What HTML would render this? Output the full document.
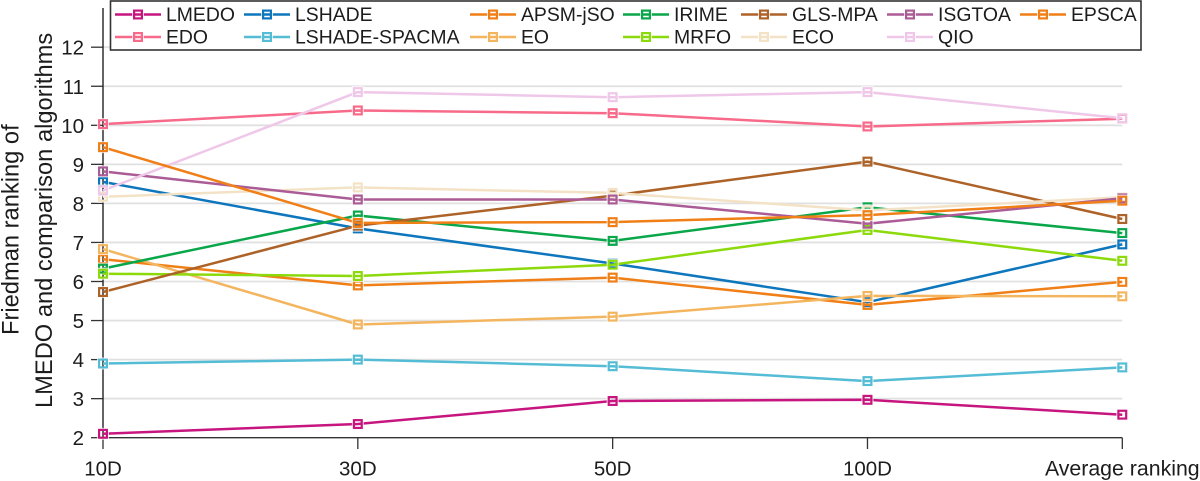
<!DOCTYPE html>
<html>
<head>
<meta charset="utf-8">
<style>
html,body{margin:0;padding:0;background:#fff;width:1200px;height:481px;overflow:hidden}
svg{display:block;font-family:"Liberation Sans",sans-serif;fill:#1c1c1c;filter:blur(0.35px)}
</style>
</head>
<body>
<svg id="chart" width="1200" height="481" viewBox="0 0 1200 481" xmlns="http://www.w3.org/2000/svg">
  <text transform="translate(18.5,335) rotate(-90)" font-size="23.7">Friedman ranking of</text>
  <text transform="translate(52,408) rotate(-90)" font-size="23.7">LMEDO and comparison algorithms</text>
</svg>
<script>
const categories = ['10D', '30D', '50D', '100D', 'Average ranking'];
const yTickLabels = [2, 3, 4, 5, 6, 7, 8, 9, 10, 11, 12];

const lmedoValues = [2.1, 2.35, 2.94, 2.97, 2.59];
const edoValues = [10.03, 10.38, 10.31, 9.97, 10.17];
const lshadeValues = [8.55, 7.36, 6.46, 5.47, 6.95];
const lshadeSpacmaValues = [3.9, 4.0, 3.83, 3.45, 3.8];
const apsmJsoValues = [6.57, 5.9, 6.1, 5.4, 5.99];
const eoValues = [6.83, 4.9, 5.1, 5.63, 5.62];
const irimeValues = [6.33, 7.69, 7.04, 7.9, 7.24];
const mrfoValues = [6.2, 6.14, 6.43, 7.32, 6.53];
const glsMpaValues = [5.73, 7.43, 8.2, 9.07, 7.6];
const ecoValues = [8.17, 8.41, 8.27, 7.82, 8.16];
const isgtoaValues = [8.82, 8.1, 8.1, 7.48, 8.13];
const qioValues = [8.33, 10.85, 10.72, 10.85, 10.18];
const epscaValues = [9.44, 7.5, 7.52, 7.7, 8.07];

const seriesList = [
  {name: 'LMEDO', color: '#c7157f', values: lmedoValues, column: 0, row: 0},
  {name: 'EDO', color: '#f76a8a', values: edoValues, column: 0, row: 1},
  {name: 'LSHADE', color: '#0d76bd', values: lshadeValues, column: 1, row: 0},
  {name: 'LSHADE-SPACMA', color: '#55bcd6', values: lshadeSpacmaValues, column: 1, row: 1},
  {name: 'APSM-jSO', color: '#f07f17', values: apsmJsoValues, column: 2, row: 0},
  {name: 'EO', color: '#f4b55f', values: eoValues, column: 2, row: 1},
  {name: 'IRIME', color: '#09a64a', values: irimeValues, column: 3, row: 0},
  {name: 'MRFO', color: '#8cd90c', values: mrfoValues, column: 3, row: 1},
  {name: 'GLS-MPA', color: '#ad6228', values: glsMpaValues, column: 4, row: 0},
  {name: 'ECO', color: '#f3e2c6', values: ecoValues, column: 4, row: 1},
  {name: 'ISGTOA', color: '#ab5c96', values: isgtoaValues, column: 5, row: 0},
  {name: 'QIO', color: '#efc7e8', values: qioValues, column: 5, row: 1},
  {name: 'EPSCA', color: '#f07f17', values: epscaValues, column: 6, row: 0}
];

const svg = document.getElementById('chart');
const NS = 'http://www.w3.org/2000/svg';
const plotLeft = 103, plotRight = 1122.3, plotBottom = 437.7, plotTop = 8;
const yScale = 39.05, yMin = 2;
const legendColumnLeft = [115, 244, 470, 623, 741, 887, 1020];
const legendRowY = [14.5, 37];

function xPos(i) { return plotLeft + i * (plotRight - plotLeft) / (categories.length - 1); }
function yPos(v) { return plotBottom - (v - yMin) * yScale; }
function make(tag, attrs, parent) {
  const el = document.createElementNS(NS, tag);
  for (const k in attrs) el.setAttribute(k, attrs[k]);
  (parent || svg).appendChild(el);
  return el;
}
function drawMarker(parent, x, y, color) {
  const halo = make('rect', {x: x - 4.8, y: y - 4.8, width: 9.6, height: 9.6, fill: 'none', stroke: '#fff', 'stroke-width': 2.4, 'stroke-opacity': 0.75}, parent);
  
  
  const box = make('rect', {x: x - 3.9, y: y - 3.9, width: 7.8, height: 7.8, fill: 'none', stroke: color, 'stroke-width': 2.2}, parent);
  
  
}

yTickLabels.forEach(function (t) {
  const y = yPos(t);
  if (t > yMin) {
    const grid = make('line', {x1: plotLeft, x2: plotRight, y1: y, y2: y, stroke: '#e0e0e0', 'stroke-width': 1.8});
    
    
  }
  const tick = make('line', {x1: 91, x2: plotLeft, y1: y, y2: y, stroke: '#333', 'stroke-width': 1.3});
  
  
  const label = make('text', {x: 84, y: y + 7.5, 'text-anchor': 'end', 'font-size': 20.5});
  label.textContent = t;
  
  
});

categories.forEach(function (c, i) {
  const x = xPos(i);
  const tick = make('line', {x1: x, x2: x, y1: plotBottom, y2: 449, stroke: '#333', 'stroke-width': 1.3});
  
  
  const label = make('text', {x: x, y: 475.5, 'text-anchor': 'middle', 'font-size': i === 4 ? 21.3 : 20.5});
  label.textContent = c;
  
  
});

const yAxis = make('line', {x1: plotLeft, x2: plotLeft, y1: plotTop, y2: plotBottom, stroke: '#222', 'stroke-width': 1.4});


const xAxis = make('line', {x1: plotLeft, x2: plotRight, y1: plotBottom, y2: plotBottom, stroke: '#333', 'stroke-width': 1.4});



seriesList.forEach(function (s) {
  const group = make('g', {});
  
  
  const pts = s.values.map(function (v, i) { return xPos(i).toFixed(1) + ',' + yPos(v).toFixed(1); }).join(' ');
  const line = make('polyline', {points: pts, fill: 'none', stroke: s.color, 'stroke-width': 2.5, 'stroke-linejoin': 'round'}, group);
  
  
  s.values.forEach(function (v, i) { drawMarker(group, xPos(i), yPos(v), s.color); });
});

const legend = make('g', {});


const legendBox = make('rect', {x: 110.5, y: 1, width: 1030.5, height: 49, fill: '#fff', stroke: '#333', 'stroke-width': 1.6}, legend);



seriesList.forEach(function (s) {
  const entry = make('g', {}, legend);
  
  
  const lx = legendColumnLeft[s.column];
  const ly = legendRowY[s.row];
  const swatch = make('line', {x1: lx, x2: lx + 46, y1: ly, y2: ly, stroke: s.color, 'stroke-width': 2.5}, entry);
  
  
  drawMarker(entry, lx + 23, ly, s.color);
  const label = make('text', {x: lx + 51, y: ly + 6.4, 'font-size': 19.4}, entry);
  label.textContent = s.name;
  
  
});
</script>
</body>
</html>
